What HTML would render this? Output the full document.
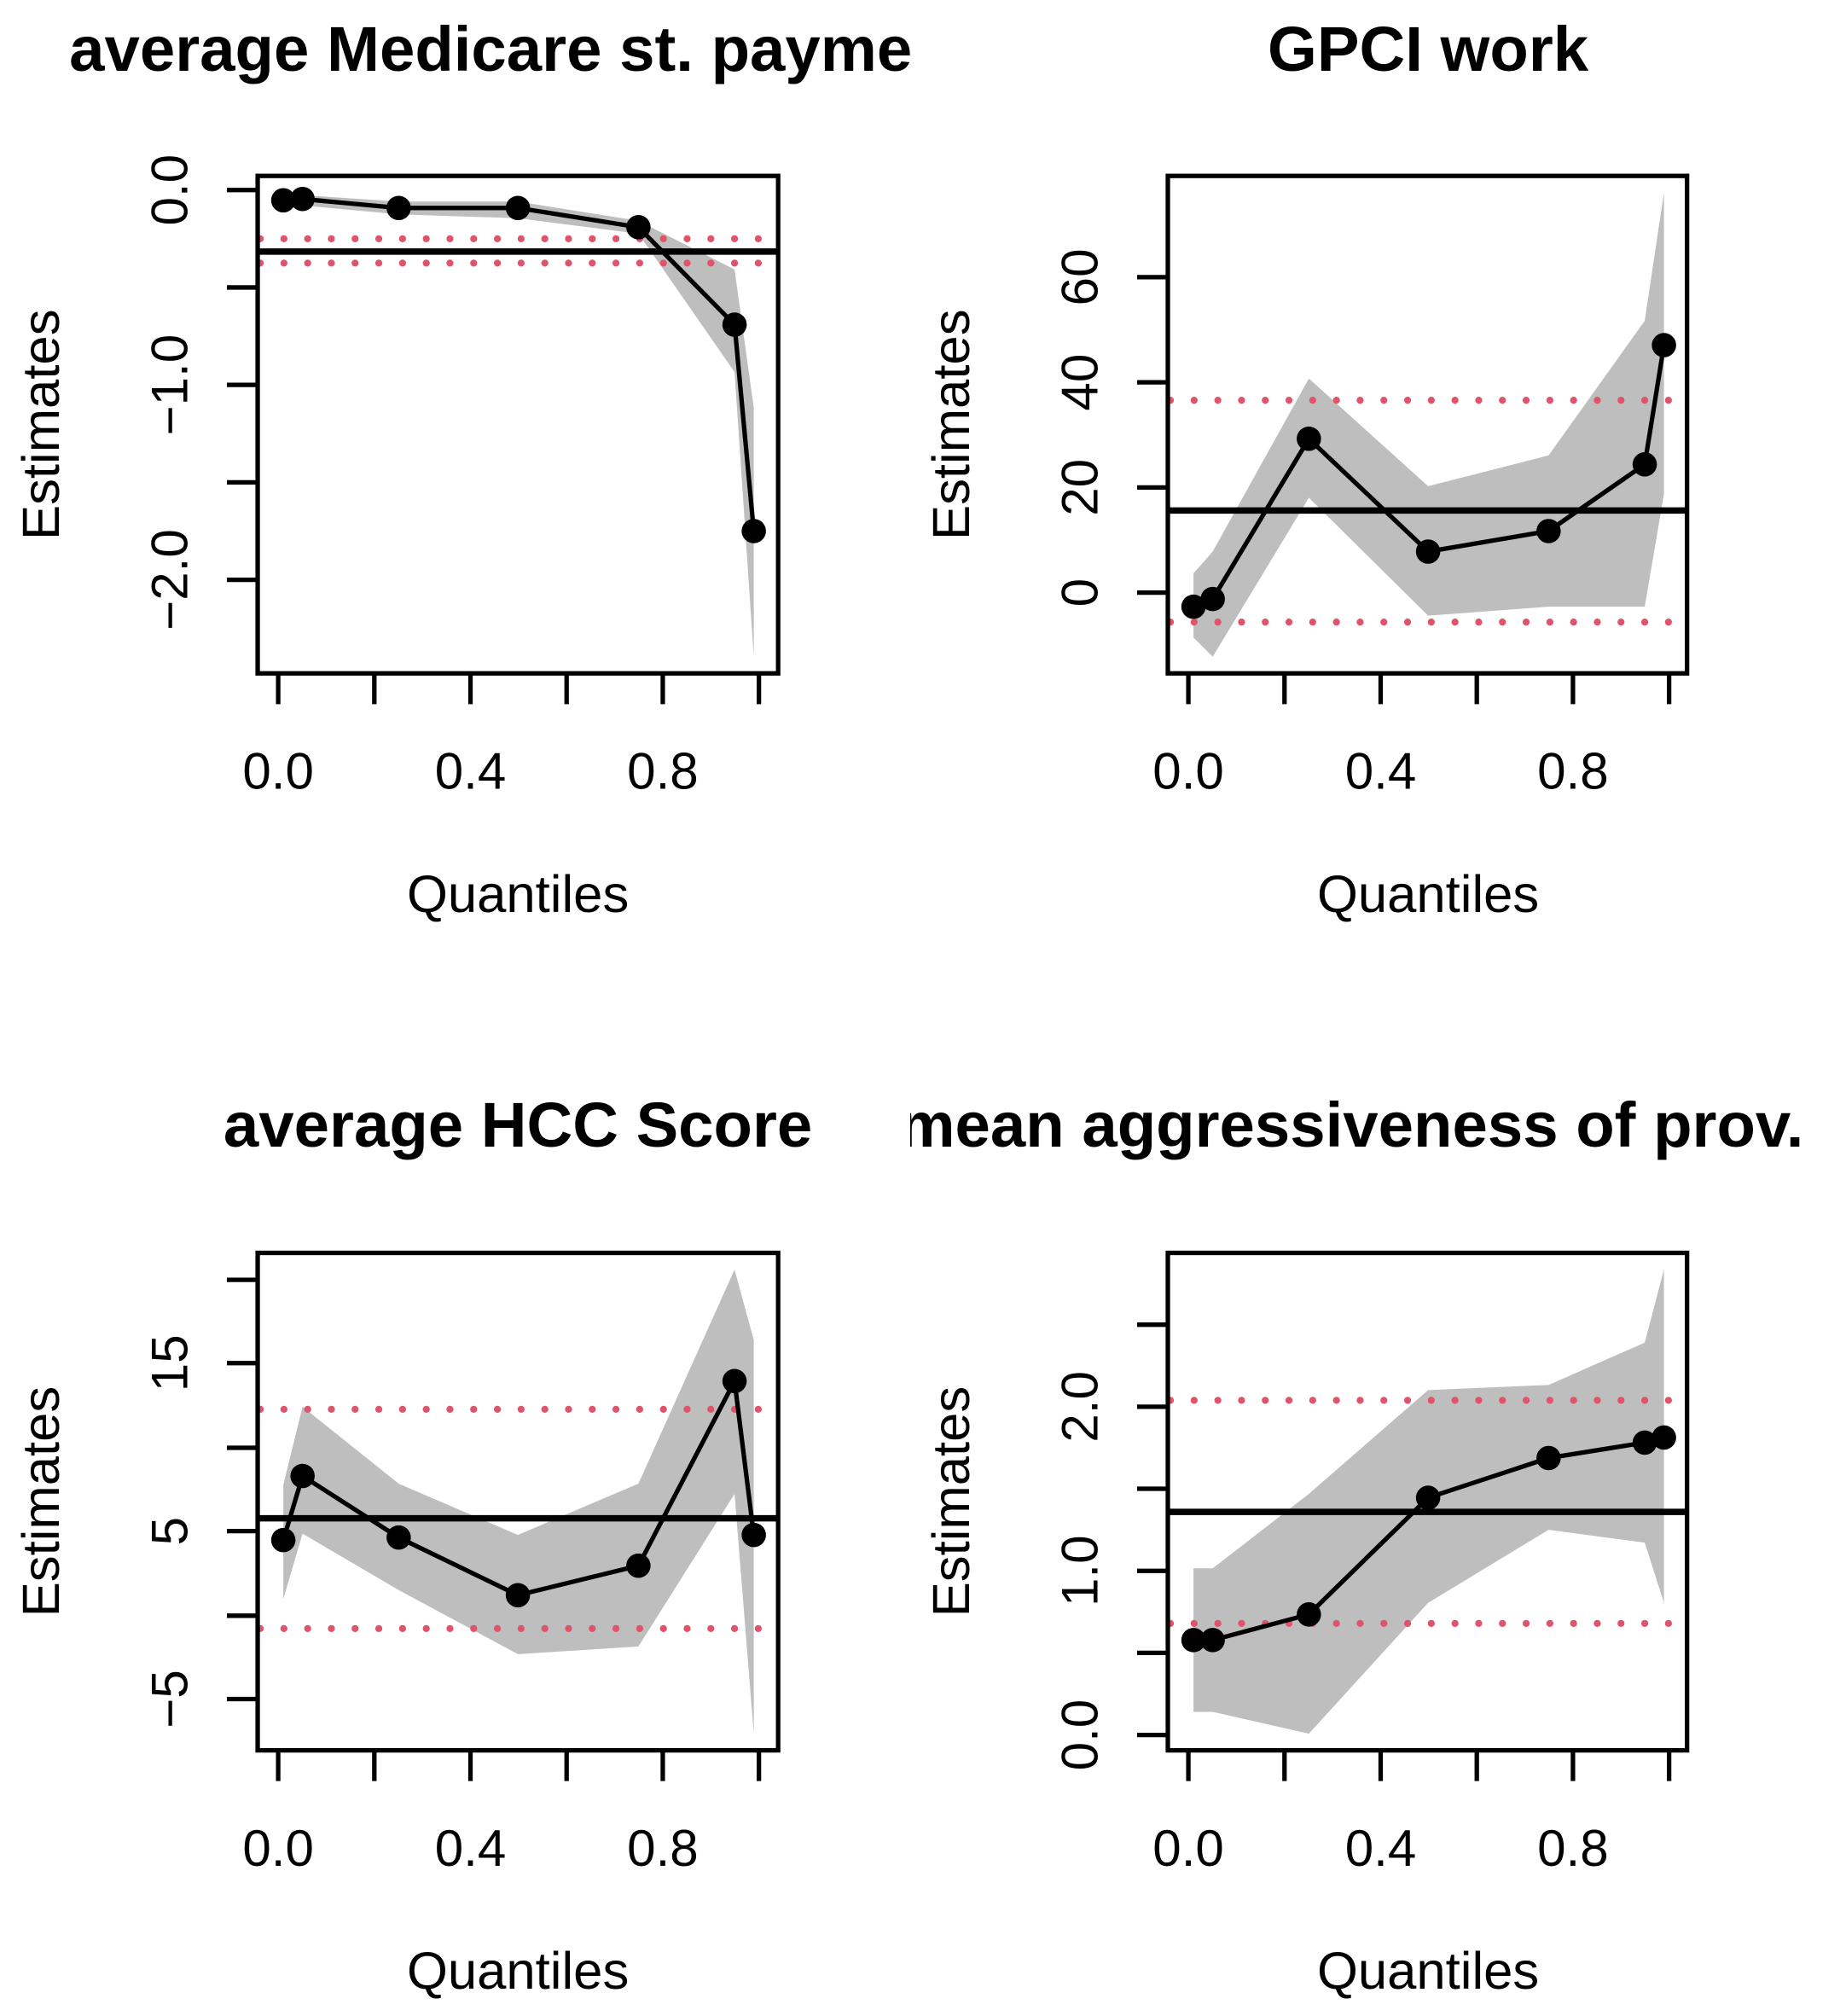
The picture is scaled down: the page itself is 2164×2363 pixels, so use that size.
<!DOCTYPE html>
<html><head><style>html,body{margin:0;padding:0;background:#fff}svg{display:block}</style></head>
<body>
<svg width="2164" height="2363" viewBox="0 0 1440 1572" xmlns="http://www.w3.org/2000/svg" font-family="Liberation Sans, sans-serif">
<defs>
<clipPath id="c1"><rect x="0" y="0" width="710" height="786"/></clipPath>
<clipPath id="c4"><rect x="710" y="786" width="730" height="786"/></clipPath>
</defs>
<rect width="1440" height="1572" fill="#fff"/>
<text x="54" y="55" font-size="49.5" font-weight="bold" clip-path="url(#c1)">average Medicare st. payment</text>
<text x="1114" y="55" font-size="49.5" font-weight="bold" text-anchor="middle">GPCI work</text>
<text x="404" y="894" font-size="49.5" font-weight="bold" text-anchor="middle">average HCC Score</text>
<text x="1407" y="894" font-size="49.5" font-weight="bold" text-anchor="end" clip-path="url(#c4)">mean aggressiveness of prov.</text>

<g font-size="41" text-anchor="middle">
<text x="404" y="711">Quantiles</text><text x="1114" y="711">Quantiles</text>
<text x="404" y="1551">Quantiles</text><text x="1114" y="1551">Quantiles</text>
<text transform="translate(46,331) rotate(-90)">Estimates</text>
<text transform="translate(756,331) rotate(-90)">Estimates</text>
<text transform="translate(46,1171) rotate(-90)">Estimates</text>
<text transform="translate(756,1171) rotate(-90)">Estimates</text>
</g>
<g font-size="40" text-anchor="middle">
<text x="217" y="615">0.0</text><text x="367" y="615">0.4</text><text x="517" y="615">0.8</text>
<text x="927" y="615">0.0</text><text x="1077" y="615">0.4</text><text x="1227" y="615">0.8</text>
<text x="217" y="1455">0.0</text><text x="367" y="1455">0.4</text><text x="517" y="1455">0.8</text>
<text x="927" y="1455">0.0</text><text x="1077" y="1455">0.4</text><text x="1227" y="1455">0.8</text>
<text transform="translate(146,148) rotate(-90)">0.0</text>
<text transform="translate(146,300) rotate(-90)">−1.0</text>
<text transform="translate(146,452) rotate(-90)">−2.0</text>
<text transform="translate(856,462) rotate(-90)">0</text>
<text transform="translate(856,380) rotate(-90)">20</text>
<text transform="translate(856,298) rotate(-90)">40</text>
<text transform="translate(856,216) rotate(-90)">60</text>
<text transform="translate(146,1325) rotate(-90)">−5</text>
<text transform="translate(146,1194) rotate(-90)">5</text>
<text transform="translate(146,1063) rotate(-90)">15</text>
<text transform="translate(856,1353) rotate(-90)">0.0</text>
<text transform="translate(856,1225) rotate(-90)">1.0</text>
<text transform="translate(856,1097) rotate(-90)">2.0</text>
</g>

<g stroke="#000" stroke-width="3.5" fill="none">
<path d="M217 525V549M292 525V549M367 525V549M442 525V549M517 525V549M592 525V549"/>
<path d="M927 525V549M1002 525V549M1077 525V549M1152 525V549M1227 525V549M1302 525V549"/>
<path d="M217 1365V1389M292 1365V1389M367 1365V1389M442 1365V1389M517 1365V1389M592 1365V1389"/>
<path d="M927 1365V1389M1002 1365V1389M1077 1365V1389M1152 1365V1389M1227 1365V1389M1302 1365V1389"/>
<path d="M177 148H201M177 224H201M177 300H201M177 376H201M177 452H201"/>
<path d="M887 462H911M887 380H911M887 298H911M887 216H911"/>
<path d="M177 1325H201M177 1260H201M177 1194H201M177 1129H201M177 1063H201M177 998H201"/>
<path d="M887 1353H911M887 1289H911M887 1225H911M887 1161H911M887 1097H911M887 1033H911"/>
</g>

<g fill="#BEBEBE">
<polygon points="221,151 236,152 311,157 404,157 498,172 573,210 588,318 588,512 573,290 498,182 404,170 311,167 236,160 221,160"/>
<polygon points="931,447 946,430 1021,295 1114,379 1208,355 1283,250 1298,150 1298,385 1283,473 1208,473 1114,480 1021,388 946,512 931,497"/>
<polygon points="221,1158 236,1097 311,1157 404,1197 498,1157 573,990 588,1045 588,1352 573,1165 498,1284 404,1290 311,1240 236,1196 221,1247"/>
<polygon points="931,1223 946,1223 1021,1165 1114,1084 1208,1080 1283,1047 1298,990 1298,1250 1283,1203 1208,1193 1114,1250 1021,1352 946,1335 931,1335"/>
</g>

<g stroke="#DF536B" stroke-width="5.5" stroke-linecap="round" stroke-dasharray="0 18.5">
<path d="M203 186H606M203 205H606"/>
<path d="M913 312H1315M913 485H1315"/>
<path d="M203 1099H606M203 1270H606"/>
<path d="M913 1092H1315M913 1266H1315"/>
</g>
<g stroke="#000" stroke-width="5">
<path d="M201 196H607M911 398H1316M201 1184H607M911 1179H1316"/>
</g>

<g stroke="#000" stroke-width="3.5" fill="none">
<polyline points="221,156 236,155 311,162 404,162 498,177 573,253 588,414"/>
<polyline points="931,473 946,467 1021,342 1114,430 1208,414 1283,362 1298,269"/>
<polyline points="221,1201 236,1151 311,1199 404,1244 498,1221 573,1077 588,1197"/>
<polyline points="931,1279 946,1279 1021,1259 1114,1168 1208,1137 1283,1125 1298,1121"/>
</g>
<g fill="#000">
<circle cx="221" cy="156" r="9.5"/><circle cx="236" cy="155" r="9.5"/><circle cx="311" cy="162" r="9.5"/><circle cx="404" cy="162" r="9.5"/><circle cx="498" cy="177" r="9.5"/><circle cx="573" cy="253" r="9.5"/><circle cx="588" cy="414" r="9.5"/>
<circle cx="931" cy="473" r="9.5"/><circle cx="946" cy="467" r="9.5"/><circle cx="1021" cy="342" r="9.5"/><circle cx="1114" cy="430" r="9.5"/><circle cx="1208" cy="414" r="9.5"/><circle cx="1283" cy="362" r="9.5"/><circle cx="1298" cy="269" r="9.5"/>
<circle cx="221" cy="1201" r="9.5"/><circle cx="236" cy="1151" r="9.5"/><circle cx="311" cy="1199" r="9.5"/><circle cx="404" cy="1244" r="9.5"/><circle cx="498" cy="1221" r="9.5"/><circle cx="573" cy="1077" r="9.5"/><circle cx="588" cy="1197" r="9.5"/>
<circle cx="931" cy="1279" r="9.5"/><circle cx="946" cy="1279" r="9.5"/><circle cx="1021" cy="1259" r="9.5"/><circle cx="1114" cy="1168" r="9.5"/><circle cx="1208" cy="1137" r="9.5"/><circle cx="1283" cy="1125" r="9.5"/><circle cx="1298" cy="1121" r="9.5"/>
</g>

<g stroke="#000" stroke-width="3.5" fill="none">
<rect x="201" y="137" width="406" height="388"/>
<rect x="911" y="137" width="405" height="388"/>
<rect x="201" y="977" width="406" height="388"/>
<rect x="911" y="977" width="405" height="388"/>
</g>
</svg>
</body></html>
